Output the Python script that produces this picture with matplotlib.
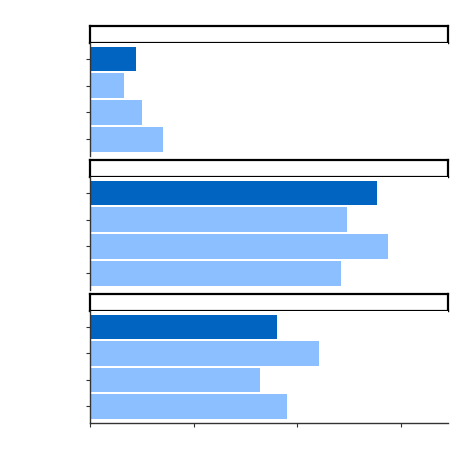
import matplotlib
matplotlib.use("Agg")
import matplotlib.pyplot as plt

# Data (no text labels in reference)
panels = ["A", "B", "C"]
categories = ["c1", "c2", "c3", "c4"]
values_a = [4.4, 3.3, 5.0, 7.0]
values_b = [27.7, 24.8, 28.8, 24.2]
values_c = [18.0, 22.1, 16.4, 19.0]
all_values = [values_a, values_b, values_c]
x_ticks = [0, 10, 20, 30]

dark = "#0064c0"
light = "#8cbfff"
colors = [dark, light, light, light]

W = H = 474
fig = plt.figure(figsize=(W / 100, H / 100), dpi=100)

left_px, right_px = 90, 447.5
strips = [(26, 43), (160, 177), (294, 311)]
axes_px = [(43, 156), (177, 290), (311, 423)]

def fr(y0, y1):
    return [left_px / W, 1 - y1 / H, (right_px - left_px) / W, (y1 - y0) / H]

for i, vals in enumerate(all_values):
    s0, s1 = strips[i]
    sax = fig.add_axes(fr(s0, s1))
    sax.set_xticks([]); sax.set_yticks([])
    for sp in sax.spines.values():
        sp.set_linewidth(1.6)
        sp.set_color("black")

    a0, a1 = axes_px[i]
    ax = fig.add_axes(fr(a0, a1))
    ypos = list(range(len(categories)))
    ax.barh(ypos, vals, height=0.93, color=colors)
    ax.set_ylim(len(categories) - 1 + 0.63, -0.6)
    ax.set_xlim(0, 34.5)
    ax.set_yticks(ypos)
    ax.set_yticklabels([])
    ax.tick_params(axis="y", length=3, width=0.8, color="#333333")
    for sp in ["top", "right"]:
        ax.spines[sp].set_visible(False)
    ax.spines["left"].set_color("#333333")
    ax.spines["left"].set_linewidth(1.0)
    if i < 2:
        ax.spines["bottom"].set_visible(False)
        ax.set_xticks([])
    else:
        ax.spines["bottom"].set_color("#333333")
        ax.spines["bottom"].set_linewidth(1.0)
        ax.set_xticks(x_ticks)
        ax.set_xticklabels([])
        ax.tick_params(axis="x", length=3, width=0.8, color="#333333")

fig.savefig("out.png", dpi=100)
